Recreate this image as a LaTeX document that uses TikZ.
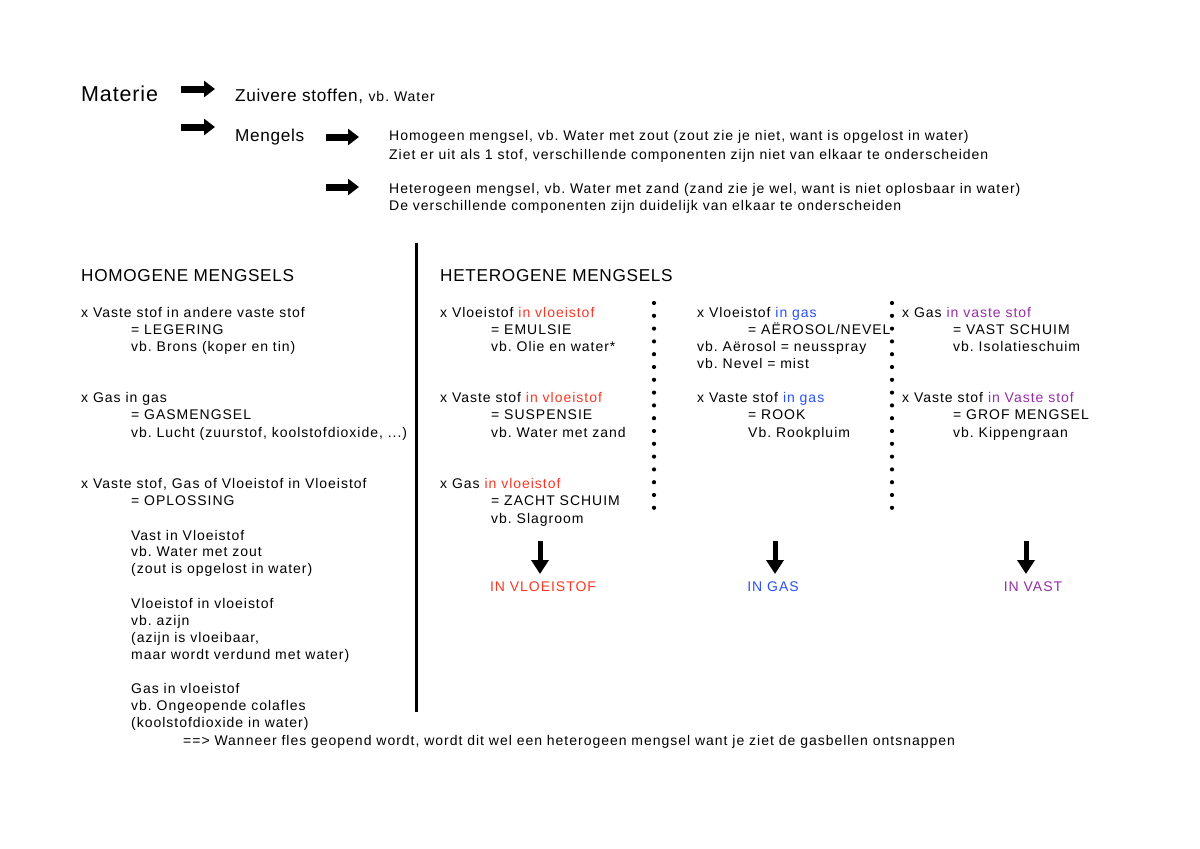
\documentclass[tikz,border=0pt]{standalone}
\usepackage{fontspec}
\setmainfont{Liberation Sans}
\newfontfamily\bodyfont[LetterSpace=7]{Liberation Sans}
\newfontfamily\headfont[LetterSpace=4]{Liberation Sans}
\frenchspacing
\usetikzlibrary{arrows.meta}
\definecolor{hred}{RGB}{250,55,35}
\definecolor{hblue}{RGB}{40,80,250}
\definecolor{hpurple}{RGB}{150,45,165}
\tikzset{
  txt/.style={anchor=base west, inner sep=0pt, font=\bodyfont\fontsize{14}{15}\selectfont},
  big/.style={anchor=base west, inner sep=0pt, font=\headfont\fontsize{17.2}{19}\selectfont},
  huge/.style={anchor=base west, inner sep=0pt, font=\headfont\fontsize{21.5}{23}\selectfont},
  lbl/.style={anchor=base, inner sep=0pt, font=\bodyfont\fontsize{14}{15}\selectfont},
  rarrow/.style={line width=7pt, -{Triangle[length=11pt,width=16pt]}},
  darrow/.style={line width=5pt, -{Triangle[length=14pt,width=17pt]}},
  divider/.style={line width=3pt},
}
\begin{document}
\begin{tikzpicture}[x=1pt,y=-1pt]
\useasboundingbox (0,0) rectangle (1200,849);
% top part
\node[huge] (materie) at (81,101) {Materie};
\node[big] (zuiver) at (235,101) {Zuivere stoffen, {\bodyfont\fontsize{14}{15}\selectfont vb. Water}};
\node[big] (mengels) at (235,141) {Mengels};
\node[txt] (homo1) at (389,140) {Homogeen mengsel, vb. Water met zout (zout zie je niet, want is opgelost in water)};
\node[txt] (homo2) at (389,159) {Ziet er uit als 1 stof, verschillende componenten zijn niet van elkaar te onderscheiden};
\node[txt] (hetero1) at (389,193) {Heterogeen mengsel, vb. Water met zand (zand zie je wel, want is niet oplosbaar in water)};
\node[txt] (hetero2) at (389,210) {De verschillende componenten zijn duidelijk van elkaar te onderscheiden};
\coordinate (a1s) at (181,89); \coordinate (a1e) at (215,89);
\coordinate (a2s) at (181,127); \coordinate (a2e) at (215,127);
\coordinate (a3s) at (326,137); \coordinate (a3e) at (359,137);
\coordinate (a4s) at (326,187); \coordinate (a4e) at (359,187);
\draw[rarrow] (a1s) -- (a1e);
\draw[rarrow] (a2s) -- (a2e);
\draw[rarrow] (a3s) -- (a3e);
\draw[rarrow] (a4s) -- (a4e);
% divider
\coordinate (vtop) at (416,243); \coordinate (vbot) at (416,712);
\draw[divider] (vtop) -- (vbot);
% homogene
\node[big] (hhom) at (81,281) {HOMOGENE MENGSELS};
\node[txt] (h1) at (81,317) {x Vaste stof in andere vaste stof};
\node[txt] (h2) at (131,334) {= LEGERING};
\node[txt] (h3) at (131,351) {vb. Brons (koper en tin)};
\node[txt] (h4) at (81,402) {x Gas in gas};
\node[txt] (h5) at (131,419) {= GASMENGSEL};
\node[txt] (h6) at (131,437) {vb. Lucht (zuurstof, koolstofdioxide, ...)};
\node[txt] (h7) at (81,488) {x Vaste stof, Gas of Vloeistof in Vloeistof};
\node[txt] (h8) at (131,505) {= OPLOSSING};
\node[txt] (h9) at (131,540) {Vast in Vloeistof};
\node[txt] (h10) at (131,556) {vb. Water met zout};
\node[txt] (h11) at (131,573) {(zout is opgelost in water)};
\node[txt] (h12) at (131,608) {Vloeistof in vloeistof};
\node[txt] (h13) at (131,625) {vb. azijn};
\node[txt] (h14) at (131,642) {(azijn is vloeibaar,};
\node[txt] (h15) at (131,659) {maar wordt verdund met water)};
\node[txt] (h16) at (131,693) {Gas in vloeistof};
\node[txt] (h17) at (131,710) {vb. Ongeopende colafles};
\node[txt] (h18) at (131,727) {(koolstofdioxide in water)};
\node[txt] (h19) at (183,745) {==> Wanneer fles geopend wordt, wordt dit wel een heterogeen mengsel want je ziet de gasbellen ontsnappen};
% heterogene
\node[big] (hhet) at (440,281) {HETEROGENE MENGSELS};
\node[txt] (c1a) at (440,317) {x Vloeistof \textcolor{hred}{in vloeistof}};
\node[txt] (c1b) at (491,334) {= EMULSIE};
\node[txt] (c1c) at (491,351) {vb. Olie en water*};
\node[txt] (c1d) at (440,402) {x Vaste stof \textcolor{hred}{in vloeistof}};
\node[txt] (c1e) at (491,419) {= SUSPENSIE};
\node[txt] (c1f) at (491,437) {vb. Water met zand};
\node[txt] (c1g) at (440,488) {x Gas \textcolor{hred}{in vloeistof}};
\node[txt] (c1h) at (491,505) {= ZACHT SCHUIM};
\node[txt] (c1i) at (491,523) {vb. Slagroom};
\node[txt] (c2a) at (697,317) {x Vloeistof \textcolor{hblue}{in gas}};
\node[txt] (c2b) at (748,334) {= AËROSOL/NEVEL};
\node[txt] (c2c) at (697,351) {vb. Aërosol = neusspray};
\node[txt] (c2d) at (697,368) {vb. Nevel = mist};
\node[txt] (c2e) at (697,402) {x Vaste stof \textcolor{hblue}{in gas}};
\node[txt] (c2f) at (748,419) {= ROOK};
\node[txt] (c2g) at (748,437) {Vb. Rookpluim};
\node[txt] (c3a) at (902,317) {x Gas \textcolor{hpurple}{in vaste stof}};
\node[txt] (c3b) at (953,334) {= VAST SCHUIM};
\node[txt] (c3c) at (953,351) {vb. Isolatieschuim};
\node[txt] (c3d) at (902,402) {x Vaste stof \textcolor{hpurple}{in Vaste stof}};
\node[txt] (c3e) at (953,419) {= GROF MENGSEL};
\node[txt] (c3f) at (953,437) {vb. Kippengraan};
% dotted separators
\foreach \i in {0,...,16} {
  \fill (654,303+12.8*\i) circle (2.1);
  \fill (892,303+12.8*\i) circle (2.1);
}
% down arrows
\node[lbl, text=hred] (inv) at (543,591) {IN VLOEISTOF};
\node[lbl, text=hblue] (ing) at (773,591) {IN GAS};
\node[lbl, text=hpurple] (inva) at (1033,591) {IN VAST};
\coordinate (d1s) at (540,541); \coordinate (d1e) at (540,574);
\coordinate (d2s) at (775,541); \coordinate (d2e) at (775,574);
\coordinate (d3s) at (1026,541); \coordinate (d3e) at (1026,574);
\draw[darrow] (d1s) -- (d1e);
\draw[darrow] (d2s) -- (d2e);
\draw[darrow] (d3s) -- (d3e);
\end{tikzpicture}
\end{document}
